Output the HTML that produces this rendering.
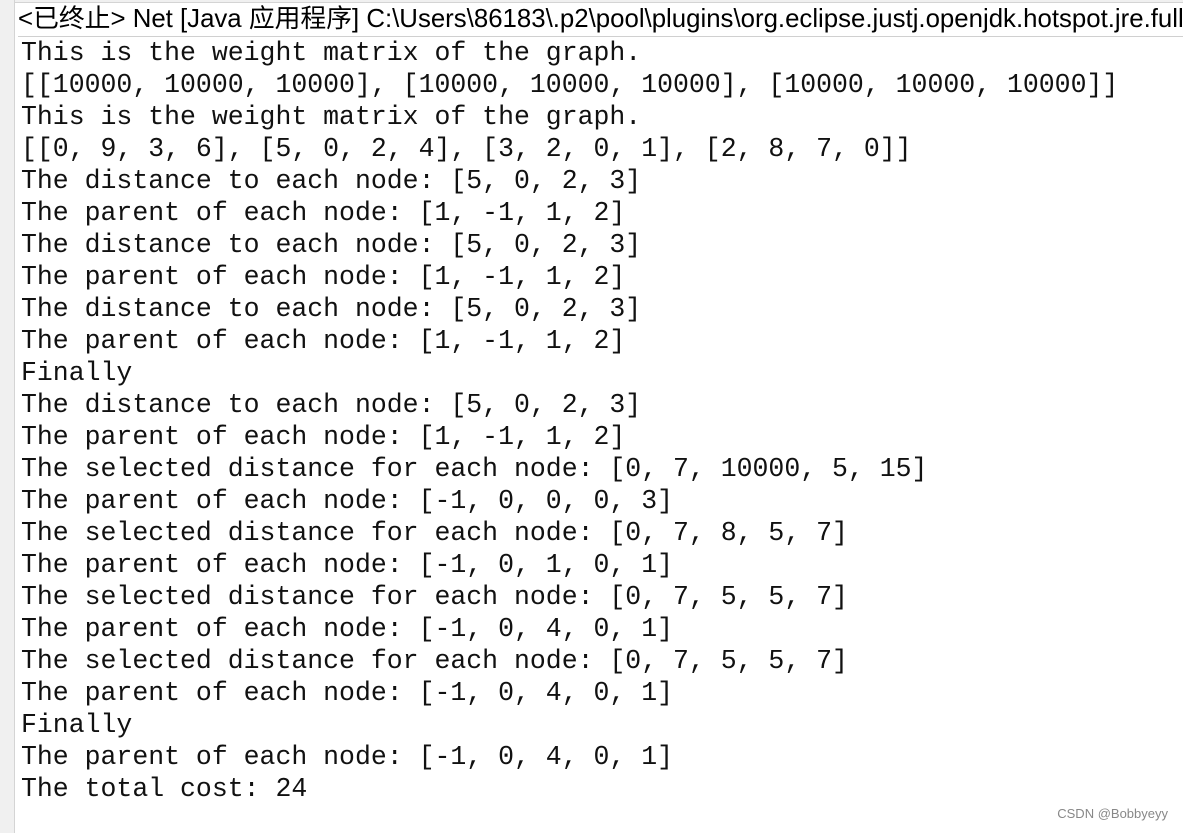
<!DOCTYPE html>
<html><head><meta charset="utf-8"><style>
body{margin:0;width:1183px;height:833px;background:#fff;position:relative;overflow:hidden}
.strip{position:absolute;left:0;top:0;width:14px;height:833px;background:#f0f0f0;border-right:1px solid #d4d4d4}
.top{position:absolute;left:15px;top:0;width:1168px;height:2px;background:#f0f0f0;border-bottom:1px solid #d4d4d4}
.hdr{position:absolute;left:18px;top:3px;height:33px;width:1166px;border-bottom:1px solid #d0d0d0;font:25.8px "Liberation Sans","Noto Sans CJK SC",sans-serif;line-height:33px;white-space:nowrap;overflow:hidden;color:#000}
pre{position:absolute;left:21px;top:37px;margin:0;font:26.5px/32px "Liberation Mono",monospace;color:#111}
.wm{position:absolute;right:15px;top:806px;font:13px "Liberation Sans",sans-serif;color:#888}
</style></head><body>
<div class="strip"></div><div class="top"></div>
<div class="hdr">&lt;已终止&gt; Net [Java 应用程序] C:\Users\86183\.p2\pool\plugins\org.eclipse.justj.openjdk.hotspot.jre.full</div>
<pre>This is the weight matrix of the graph.
[[10000, 10000, 10000], [10000, 10000, 10000], [10000, 10000, 10000]]
This is the weight matrix of the graph.
[[0, 9, 3, 6], [5, 0, 2, 4], [3, 2, 0, 1], [2, 8, 7, 0]]
The distance to each node: [5, 0, 2, 3]
The parent of each node: [1, -1, 1, 2]
The distance to each node: [5, 0, 2, 3]
The parent of each node: [1, -1, 1, 2]
The distance to each node: [5, 0, 2, 3]
The parent of each node: [1, -1, 1, 2]
Finally
The distance to each node: [5, 0, 2, 3]
The parent of each node: [1, -1, 1, 2]
The selected distance for each node: [0, 7, 10000, 5, 15]
The parent of each node: [-1, 0, 0, 0, 3]
The selected distance for each node: [0, 7, 8, 5, 7]
The parent of each node: [-1, 0, 1, 0, 1]
The selected distance for each node: [0, 7, 5, 5, 7]
The parent of each node: [-1, 0, 4, 0, 1]
The selected distance for each node: [0, 7, 5, 5, 7]
The parent of each node: [-1, 0, 4, 0, 1]
Finally
The parent of each node: [-1, 0, 4, 0, 1]
The total cost: 24</pre>
<div class="wm">CSDN @Bobbyeyy</div>
</body></html>
